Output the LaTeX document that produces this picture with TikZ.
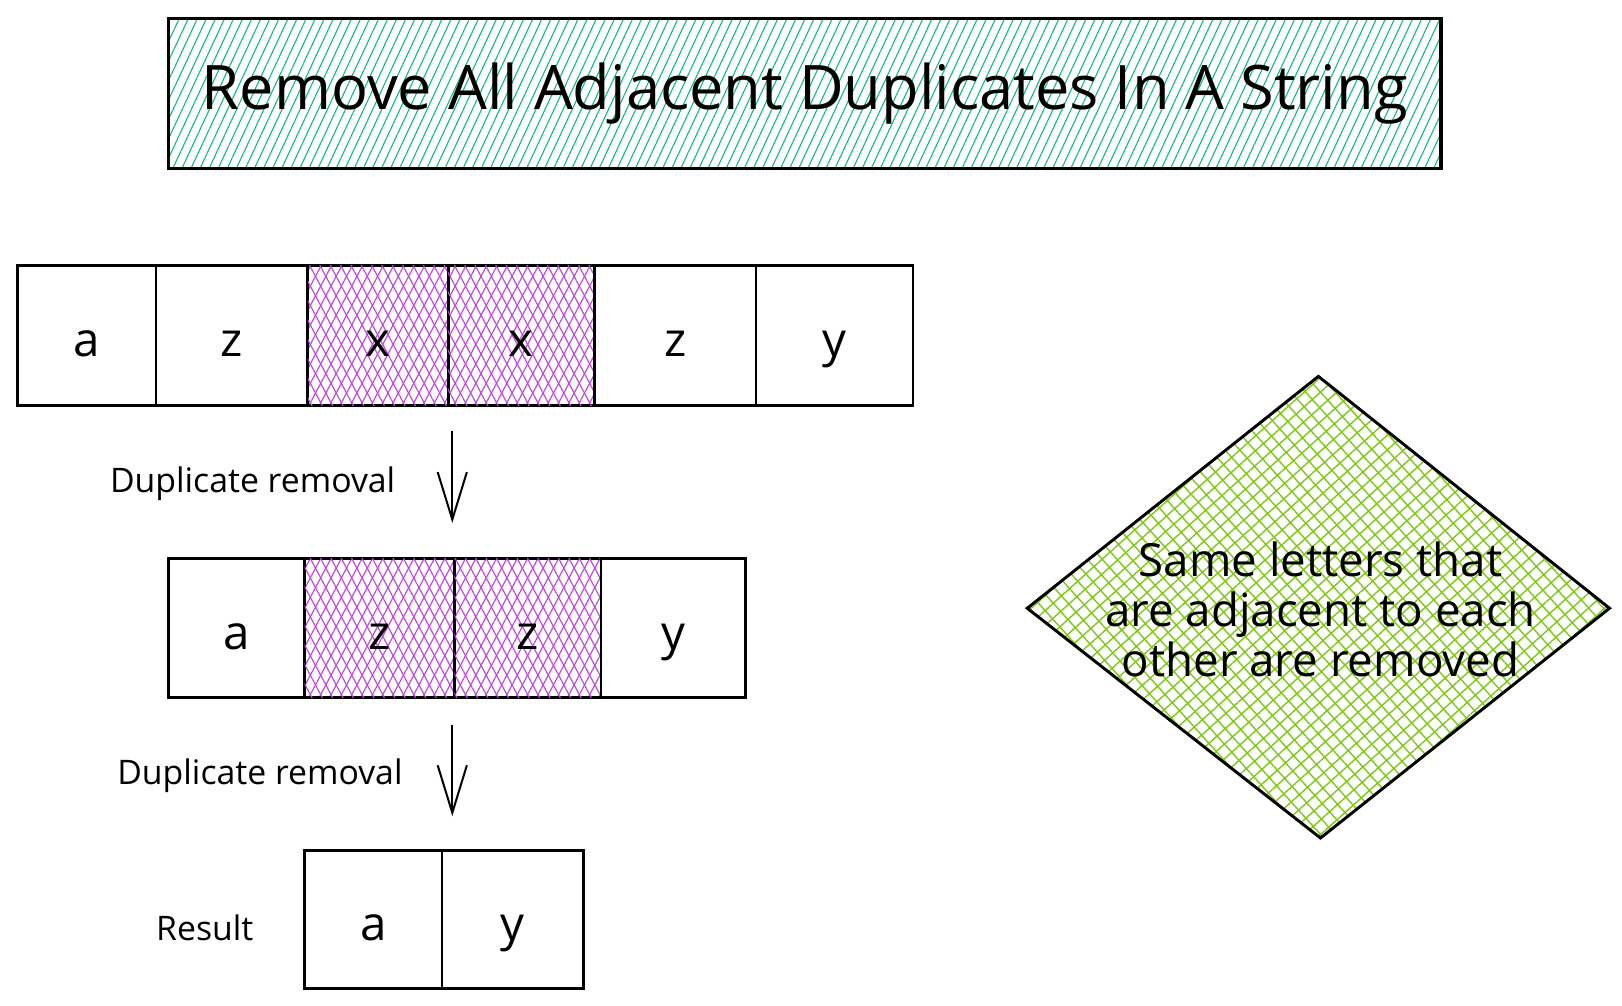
\documentclass[tikz,border=0pt]{standalone}
\usepackage{fontspec}
\setmainfont{Open Sans}
\usetikzlibrary{patterns.meta,arrows.meta}
\definecolor{hatchteal}{HTML}{12B886}
\definecolor{hatchpurple}{HTML}{BE4BDB}
\definecolor{hatchgreen}{HTML}{82C91E}
\begin{document}
\begin{tikzpicture}[x=0.02cm,y=-0.02cm,
  cellbox/.style={draw=black, line width=1.5pt, rectangle, inner sep=0pt, text height=0.81cm, text depth=0pt, font=\fontsize{26}{30}\selectfont},
  dupbox/.style={cellbox,
    pattern={Lines[angle=62,distance=5pt,line width=0.65pt]}, pattern color=hatchpurple,
    postaction={pattern={Lines[angle=118,distance=5pt,line width=0.65pt]}, pattern color=hatchpurple}},
  lbl/.style={inner sep=0pt, font=\fontsize{18.5}{22}\selectfont},
  flow/.style={draw=black, line width=1.1pt, -{Straight Barb[length=26pt,width=16pt,line width=1.1pt]}}
]
\fill[white] (0,0) rectangle (1560,967.5);
\useasboundingbox (0,0) rectangle (1560,967.5);

% title
\node[draw=black, line width=1.8pt, inner sep=0pt, minimum width=24.48cm, minimum height=2.88cm,
  pattern={Lines[angle=65,distance=4.5pt,line width=0.6pt]}, pattern color=hatchteal,
  font=\fontsize{33.6}{38}\selectfont] (title) at (774,90) {Remove All Adjacent Duplicates In A String};

% row 1
\node[cellbox, minimum width=2.66cm, minimum height=2.7cm] (r1c1) at (83.5,322.5) {a};
\node[cellbox, minimum width=2.92cm, minimum height=2.7cm] (r1c2) at (223,322.5) {z};
\node[dupbox, minimum width=2.70cm, minimum height=2.7cm] (r1c3) at (363.5,322.5) {x};
\node[dupbox, minimum width=2.82cm, minimum height=2.7cm] (r1c4) at (501.5,322.5) {x};
\node[cellbox, minimum width=3.10cm, minimum height=2.7cm] (r1c5) at (649.5,322.5) {z};
\node[cellbox, minimum width=3.02cm, minimum height=2.7cm] (r1c6) at (802.5,322.5) {y};

% arrow 1
\coordinate (a1s) at (435,415);
\coordinate (a1e) at (435,503);
\draw[flow] (a1s) -- (a1e);
\node[lbl] (lab1) at (243,465) {Duplicate removal};

% row 2
\node[cellbox, minimum width=2.62cm, minimum height=2.68cm] (r2c1) at (227.5,604) {a};
\node[dupbox, minimum width=2.88cm, minimum height=2.68cm] (r2c2) at (365,604) {z};
\node[dupbox, minimum width=2.82cm, minimum height=2.68cm] (r2c3) at (507.5,604) {z};
\node[cellbox, minimum width=2.78cm, minimum height=2.68cm] (r2c4) at (647.5,604) {y};

% arrow 2
\coordinate (a2s) at (435,697);
\coordinate (a2e) at (435,785);
\draw[flow] (a2s) -- (a2e);
\node[lbl] (lab2) at (250,746) {Duplicate removal};

% row 3
\node[cellbox, minimum width=2.64cm, minimum height=2.66cm] (r3c1) at (359,884.5) {a};
\node[cellbox, minimum width=2.72cm, minimum height=2.66cm] (r3c2) at (493,884.5) {y};
\node[lbl] (res) at (197,892) {Result};

% diamond
\coordinate (dl) at (988,585);
\coordinate (dt) at (1268,362);
\coordinate (dr) at (1548,585);
\coordinate (db) at (1270,806);
\draw[line width=1.6pt, line join=miter,
  pattern={Hatch[angle=42,distance=6pt,line width=0.8pt]}, pattern color=hatchgreen]
  (dl) -- (dt) -- (dr) -- (db) -- cycle;
\node[align=center, inner sep=0pt, font=\fontsize{25}{27.3}\selectfont] (dtext) at (1270,586)
  {Same letters that\\are adjacent to each\\other are removed};
\end{tikzpicture}
\end{document}
